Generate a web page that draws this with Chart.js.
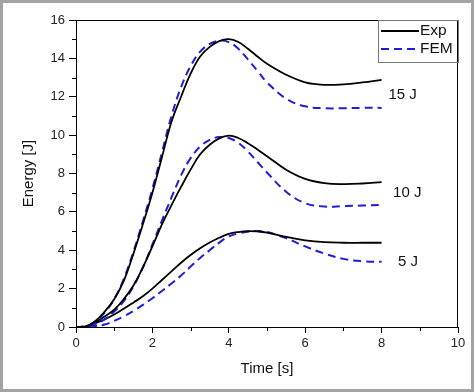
<!DOCTYPE html>
<html>
<head>
<meta charset="utf-8">
<script src="https://cdn.jsdelivr.net/npm/chart.js@4.4.1/dist/chart.umd.min.js"></script>
<style>
  html, body { margin: 0; padding: 0; background: #fff; }
  #wrap { width: 474px; height: 392px; position: relative; }
</style>
</head>
<body>
<div id="wrap"><canvas id="energy-chart" width="474" height="392"></canvas></div>
<script>
// time grid [s]
const time = [0, 0.25, 0.5, 0.75, 1, 1.25, 1.5, 1.75, 2, 2.25, 2.5, 2.75, 3, 3.25, 3.5, 3.75,
  4, 4.25, 4.5, 4.75, 5, 5.5, 6, 6.5, 7, 7.5, 8];

// energy [J]
const exp15 = [0, 0.03, 0.3, 0.8, 1.45, 2.4, 3.8, 5.35, 7.0, 8.85, 10.7, 12.0, 13.2, 14.1, 14.6, 14.9,
  15.0, 14.85, 14.5, 14.1, 13.72, 13.15, 12.75, 12.62, 12.65, 12.75, 12.88];
const fem15 = [0, 0.02, 0.25, 0.75, 1.45, 2.5, 3.9, 5.5, 7.2, 9.1, 11.0, 12.5, 13.6, 14.35, 14.75, 14.92,
  14.85, 14.5, 13.95, 13.35, 12.75, 11.9, 11.5, 11.4, 11.4, 11.42, 11.42];
const exp10 = [0, 0.02, 0.25, 0.55, 0.9, 1.45, 2.15, 3.1, 4.2, 5.35, 6.35, 7.3, 8.2, 9.0, 9.5, 9.83,
  9.97, 9.85, 9.58, 9.25, 8.9, 8.2, 7.72, 7.5, 7.45, 7.48, 7.55];
const fem10 = [0, 0.02, 0.15, 0.4, 0.8, 1.35, 2.1, 3.1, 4.3, 5.55, 6.75, 7.9, 8.8, 9.4, 9.75, 9.9,
  9.85, 9.6, 9.15, 8.6, 8.05, 7.05, 6.45, 6.28, 6.3, 6.33, 6.36];
const exp5 = [0, 0.02, 0.2, 0.4, 0.65, 0.95, 1.27, 1.6, 2.0, 2.45, 2.9, 3.35, 3.75, 4.1, 4.4, 4.65,
  4.85, 4.95, 5.0, 4.98, 4.92, 4.7, 4.52, 4.42, 4.39, 4.39, 4.39];
const fem5 = [0, 0.01, 0.05, 0.13, 0.32, 0.55, 0.83, 1.15, 1.5, 1.88, 2.27, 2.68, 3.15, 3.6, 4.0, 4.4,
  4.72, 4.88, 4.97, 5.0, 4.95, 4.63, 4.2, 3.83, 3.55, 3.43, 3.4];

const seriesNames = ['Exp', 'FEM'];
const caseLabels = ['15 J', '10 J', '5 J'];
const xTicks = [0, 2, 4, 6, 8, 10];
const yTicks = [0, 2, 4, 6, 8, 10, 12, 14, 16];

const BLUE = '#1e1ed8';
const FONT = '"Liberation Sans", Arial, sans-serif';

function pts(vals) {
  return time.map((t, i) => ({ x: t, y: vals[i] }));
}

function expSet(vals, label) {
  return { label: label, data: pts(vals), borderColor: '#000', borderWidth: 1.8,
    pointRadius: 0, fill: false, tension: 0.4 };
}
function femSet(vals, label) {
  return { label: label, data: pts(vals), borderColor: BLUE, borderWidth: 2, borderDash: [8, 5],
    pointRadius: 0, fill: false, tension: 0.4 };
}

// frame, minor ticks, legend box and case labels
const decorations = {
  id: 'decorations',
  afterDraw(chart) {
    const { ctx, chartArea: a, scales: { x, y } } = chart;
    ctx.save();
    // plot box
    ctx.strokeStyle = '#000';
    ctx.lineWidth = 1;
    ctx.strokeRect(a.left + 0.5, a.top + 0.5, a.right - a.left - 1, a.bottom - a.top);
    // minor ticks
    ctx.beginPath();
    for (let v = 1; v < 10; v += 2) {
      const px = Math.round(x.getPixelForValue(v)) + 0.5;
      ctx.moveTo(px, a.bottom); ctx.lineTo(px, a.bottom + 4);
    }
    for (let v = 1; v < 16; v += 2) {
      const py = Math.round(y.getPixelForValue(v)) + 0.5;
      ctx.moveTo(a.left, py); ctx.lineTo(a.left - 4, py);
    }
    ctx.stroke();

    // legend
    const lx = a.right - 80, ly = a.top, lw = 80, lh = 42;
    ctx.strokeStyle = '#777';
    ctx.strokeRect(lx + 0.5, ly + 0.5, lw, lh);
    ctx.font = '15.5px ' + FONT;
    ctx.textBaseline = 'middle';
    ctx.fillStyle = '#111';
    const ds = chart.data.datasets;
    [0, 1].forEach(i => {
      const d = ds[i];
      const yy = ly + 11 + i * 18;
      ctx.beginPath();
      ctx.strokeStyle = d.borderColor;
      ctx.lineWidth = d.borderWidth;
      ctx.setLineDash(d.borderDash || []);
      ctx.moveTo(lx + 3, yy); ctx.lineTo(lx + 41, yy);
      ctx.stroke();
      ctx.setLineDash([]);
      ctx.fillText(seriesNames[i], lx + 42, yy);
    });

    // case labels next to the curve ends
    ctx.font = '15px ' + FONT;
    const labelAt = [[8.18, 12.1], [8.3, 6.98], [8.43, 3.39]];
    caseLabels.forEach((txt, i) => {
      ctx.fillText(txt, x.getPixelForValue(labelAt[i][0]), y.getPixelForValue(labelAt[i][1]));
    });

    // outer grey frame
    ctx.strokeStyle = '#a3a3a3';
    ctx.lineWidth = 3;
    ctx.strokeRect(1.5, 1.5, chart.width - 3, chart.height - 3);
    ctx.restore();
  }
};

function loadChart() {
  const ctx = document.getElementById('energy-chart').getContext('2d');
  new Chart(ctx, {
    type: 'line',
    data: {
      datasets: [
        expSet(exp15, 'Exp'), femSet(fem15, 'FEM'),
        expSet(exp10, 'Exp 10 J'), femSet(fem10, 'FEM 10 J'),
        expSet(exp5, 'Exp 5 J'), femSet(fem5, 'FEM 5 J')
      ]
    },
    options: {
      responsive: false,
      animation: false,
      layout: { padding: { top: 20, right: 16, left: 0, bottom: 0 } },
      plugins: { legend: { display: false }, tooltip: { enabled: false } },
      scales: {
        x: {
          type: 'linear', min: 0, max: 10,
          afterBuildTicks: s => { s.ticks = xTicks.map(v => ({ value: v })); },
          afterFit: s => { s.height = 65; },
          grid: { drawOnChartArea: false, tickLength: 6, color: '#000' },
          border: { color: '#000' },
          ticks: { color: '#222', font: { family: FONT, size: 13 }, padding: 3, maxRotation: 0 },
          title: { display: true, text: 'Time [s]', color: '#111',
            font: { family: FONT, size: 15 }, padding: { top: 0, bottom: 14 } }
        },
        y: {
          min: 0, max: 16,
          afterBuildTicks: s => { s.ticks = yTicks.map(v => ({ value: v })); },
          afterFit: s => { s.width = 76; },
          grid: { drawOnChartArea: false, tickLength: 7, color: '#000' },
          border: { color: '#000' },
          ticks: { color: '#222', font: { family: FONT, size: 13 }, padding: 4 },
          title: { display: true, text: 'Energy [J]', color: '#111',
            font: { family: FONT, size: 15 }, padding: { top: 20, bottom: 0 } }
        }
      }
    },
    plugins: [decorations]
  });
}

document.addEventListener('DOMContentLoaded', loadChart);
</script>
</body>
</html>
